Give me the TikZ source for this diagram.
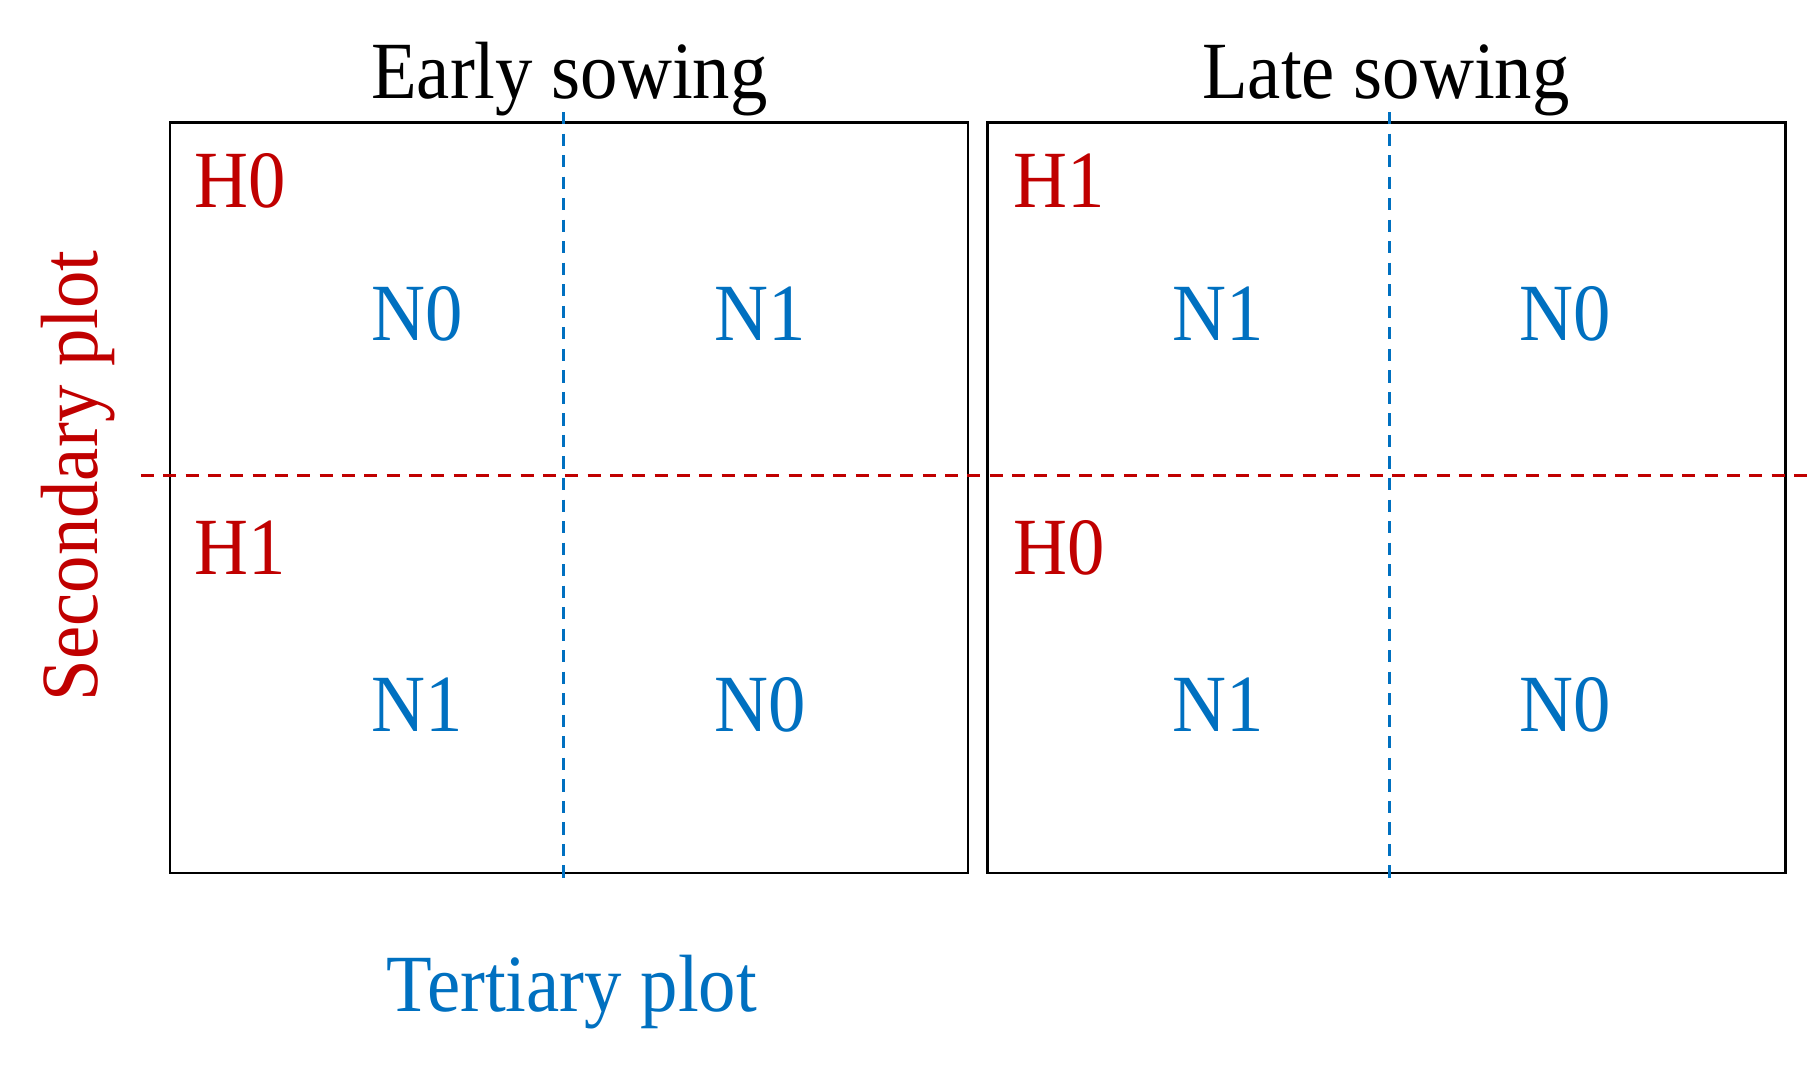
\documentclass[tikz,border=0pt]{standalone}
\usepackage{fontspec}
\setmainfont{Liberation Serif}
\usepackage{tikz}
\usepackage{xcolor}
\definecolor{hred}{RGB}{192,0,0}
\definecolor{nblue}{RGB}{0,112,192}

\begin{document}
\begin{tikzpicture}[x=0.01cm, y=0.01cm,
        lbl/.style={inner sep=0pt, anchor=base, font=\fontsize{20}{24}\selectfont},
        hlbl/.style={lbl, anchor=base west, text=hred},
        nlbl/.style={lbl, text=nblue},
        plotbox/.style={draw=black, line width=0.6pt},
        hsplit/.style={draw=hred, line width=0.75pt, dash pattern=on 3.2pt off 2.3pt},
        vsplit/.style={draw=nblue, line width=0.75pt, dash pattern=on 3pt off 2.3pt}]

        \useasboundingbox (0,0) rectangle (1568,930);

        % Draw the two sowing boxes
        \coordinate (early sw) at (147,174);
        \coordinate (early ne) at (838,824);
        \coordinate (late sw) at (855,174);
        \coordinate (late ne) at (1546,824);
        \draw[plotbox] (early sw) rectangle (early ne);
        \draw[plotbox] (late sw) rectangle (late ne);

        % Draw the dashed splits
        \coordinate (early top) at (488,833);
        \coordinate (early bottom) at (488,165);
        \coordinate (late top) at (1203,833);
        \coordinate (late bottom) at (1203,165);
        \coordinate (split left) at (122,518);
        \coordinate (split right) at (1568,518);
        \draw[vsplit] (early top) -- (early bottom);
        \draw[vsplit] (late top) -- (late bottom);
        \draw[hsplit] (split left) -- (split right);

        % Titles and axis labels
        \node[lbl] (early) at (493,845) {\scalebox{0.92}[1]{Early sowing}};
        \node[lbl] (late) at (1200,845) {\scalebox{0.92}[1]{Late sowing}};
        \node[lbl, text=hred, rotate=90] (secondary) at (84,518) {\scalebox{0.92}[1]{Secondary plot}};
        \node[nlbl] (tertiary) at (495,54) {\scalebox{0.92}[1]{Tertiary plot}};

        % Secondary plot labels
        \node[hlbl] (early h0) at (168,750) {\scalebox{0.92}[1]{H0}};
        \node[hlbl] (early h1) at (168,433) {\scalebox{0.92}[1]{H1}};
        \node[hlbl] (late h1) at (877,750) {\scalebox{0.92}[1]{H1}};
        \node[hlbl] (late h0) at (877,433) {\scalebox{0.92}[1]{H0}};

        % Tertiary plot labels
        \node[nlbl] (early n0 top) at (361,635) {\scalebox{0.92}[1]{N0}};
        \node[nlbl] (early n1 top) at (658,635) {\scalebox{0.92}[1]{N1}};
        \node[nlbl] (early n1 bot) at (361,297) {\scalebox{0.92}[1]{N1}};
        \node[nlbl] (early n0 bot) at (658,297) {\scalebox{0.92}[1]{N0}};
        \node[nlbl] (late n1 top) at (1055,635) {\scalebox{0.92}[1]{N1}};
        \node[nlbl] (late n0 top) at (1355,635) {\scalebox{0.92}[1]{N0}};
        \node[nlbl] (late n1 bot) at (1055,297) {\scalebox{0.92}[1]{N1}};
        \node[nlbl] (late n0 bot) at (1355,297) {\scalebox{0.92}[1]{N0}};

\end{tikzpicture}
\end{document}
